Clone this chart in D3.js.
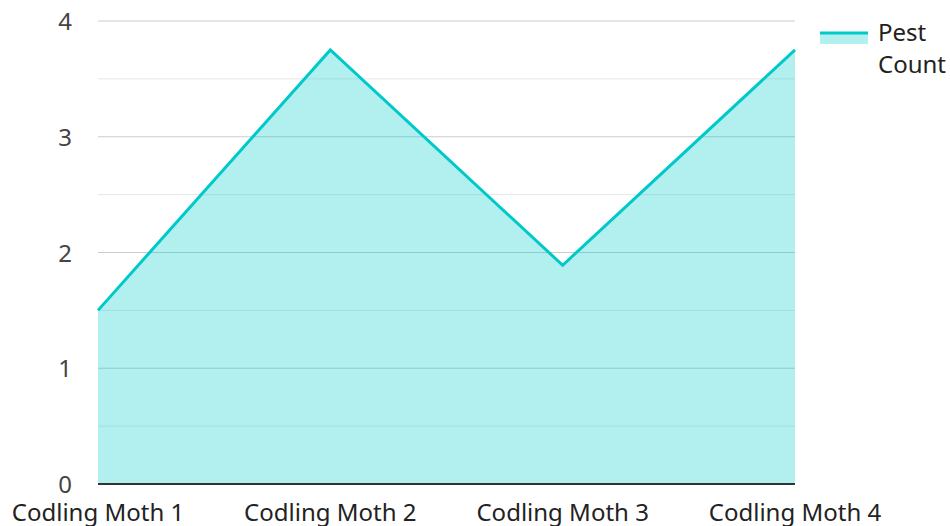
<!DOCTYPE html>
<html><head><meta charset="utf-8">
<script src="https://cdn.jsdelivr.net/npm/d3@7"></script>
<style>body{margin:0;background:#fff;}svg{display:block;font-family:"Noto Sans",sans-serif;}</style>
</head><body><svg id="c" width="950" height="526"></svg>
<script>
const categories = ["Codling Moth 1","Codling Moth 2","Codling Moth 3","Codling Moth 4"];
const pestCount = [1.5, 3.75, 1.89, 3.75];
const yTicks = [0,1,2,3,4];
const minorTicks = [0.5,1.5,2.5,3.5];
const seriesName = ["Pest","Count"];

(function(){
const svg = d3.select("#c");
const pL = 98, pR = 795, pT = 21, pB = 484;
const x = d3.scalePoint().domain(categories).range([pL, pR]);
const y = d3.scaleLinear().domain([0,4]).range([pB, pT]);
const lineColor = "#00c9c9";

svg.append("g").selectAll("line").data(minorTicks).join("line")
  .attr("x1", pL).attr("x2", pR).attr("y1", d=>y(d)).attr("y2", d=>y(d))
  .attr("stroke", "#e6e6e6").attr("stroke-width", 1);
svg.append("g").selectAll("line").data(yTicks.filter(d=>d>0)).join("line")
  .attr("x1", pL).attr("x2", pR).attr("y1", d=>y(d)).attr("y2", d=>y(d))
  .attr("stroke", "#cccccc").attr("stroke-width", 1);

const area = d3.area().x((d,i)=>x(categories[i])).y0(y(0)).y1(d=>y(d));
svg.append("path").datum(pestCount).attr("d", area)
  .attr("fill", lineColor).attr("fill-opacity", 0.3);
const line = d3.line().x((d,i)=>x(categories[i])).y(d=>y(d));
svg.append("path").datum(pestCount).attr("d", line)
  .attr("fill", "none").attr("stroke", lineColor).attr("stroke-width", 3);

svg.append("line").attr("x1", pL).attr("x2", pR).attr("y1", y(0)).attr("y2", y(0))
  .attr("stroke", "#333").attr("stroke-width", 2);

svg.append("g").selectAll("text").data(yTicks).join("text")
  .attr("x", 72).attr("y", d=>y(d)+9).attr("text-anchor", "end")
  .attr("font-size", 24).attr("fill", "#444").text(d=>d);

svg.append("g").selectAll("text").data(categories).join("text")
  .attr("x", d=>x(d)).attr("y", 521).attr("text-anchor", "middle")
  .attr("font-size", 24).attr("fill", "#222").text(d=>d);

const lg = svg.append("g");
lg.append("rect").attr("x", 820).attr("y", 34).attr("width", 48).attr("height", 10)
  .attr("fill", lineColor).attr("fill-opacity", 0.3);
lg.append("line").attr("x1", 820).attr("x2", 868).attr("y1", 33).attr("y2", 33)
  .attr("stroke", lineColor).attr("stroke-width", 3);
lg.selectAll("text").data(seriesName).join("text")
  .attr("x", 878).attr("y", (d,i)=>41+i*32)
  .attr("font-size", 24).attr("fill", "#222").text(d=>d);
})();
</script></body></html>
